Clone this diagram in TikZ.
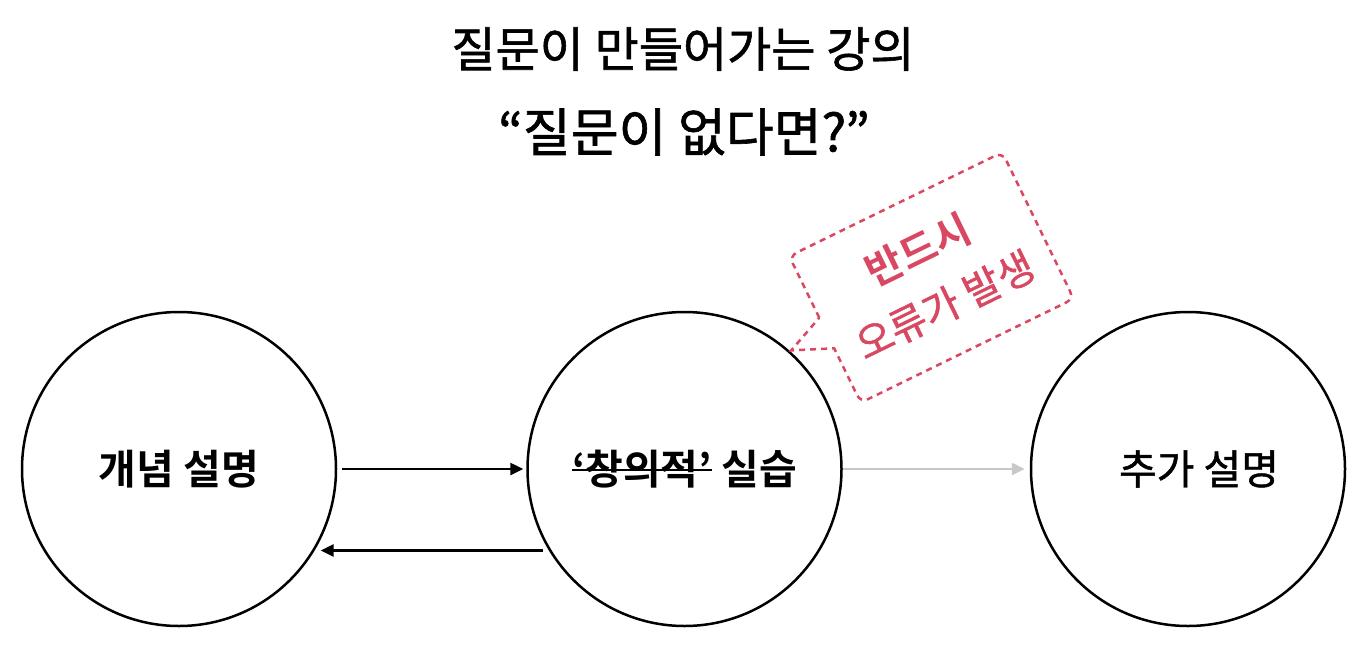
\documentclass[tikz,border=0pt]{standalone}
\usepackage{fontspec}
\setmainfont{Noto Sans CJK KR}[BoldFont={Noto Sans CJK KR Bold}]
\newfontfamily\plainfont{Noto Sans CJK KR}[FakeBold=1.2]
\usetikzlibrary{arrows.meta,positioning,calc}
\definecolor{alert}{RGB}{217,72,98}
\definecolor{faint}{RGB}{200,200,200}
\newcommand{\lowline}[1]{\setbox0\hbox{#1}\rlap{\rule[0.33em]{\wd0}{2pt}}\box0\relax}
\tikzset{
    stage/.style =  {circle,
                    fill=white,
                    draw=black,
                    text=black,
                    line width=2.5pt,
                    inner sep=0pt,
                    minimum size=314pt,
                    font=\fontsize{41}{46}\selectfont},
    heading/.style = {text=black,
                    inner sep=0pt,
                    font=\plainfont\fontsize{48}{54}\selectfont},
    note/.style =   {text=alert,
                    rotate=26,
                    inner sep=0pt,
                    font=\plainfont\fontsize{40}{46}\selectfont},
    balloon/.style = {draw=alert,
                    line width=2.5pt,
                    dash pattern=on 6pt off 5pt},
    flow/.style =   {draw=black,
                    line width=2.5pt,
                    ->},
    >={Triangle[length=13pt,width=12pt]}}
\begin{document}
\begin{tikzpicture}[x=1pt,y=-1pt]
                \useasboundingbox (0,0) rectangle (1366,654);
                \node[heading]  (title)    at (683,49)              {질문이 만들어가는 강의};
                \node[heading]  (question) at (684,132) [font=\plainfont\fontsize{52}{58}\selectfont] {“질문이 없다면?”};
                \node[stage]    (explain)  at (179,469)             {\textbf{개념 설명}};
                \node[stage]    (practice) [right=189pt of explain]  {\textbf{\lowline{‘창의적’} 실습}};
                \node[stage]    (extra)    [right=187pt of practice] {\plainfont\hspace*{22pt}추가 설명};
                \node[note]     (warnhead) at (918,250) [font=\bfseries\fontsize{40}{46}\selectfont] {반드시};
                \node[note]     (warnbody) at (945,305)             {오류가 발생};
                \begin{scope}[shift={($(warnhead)!0.5!(warnbody)$)}, rotate=26]
                \draw[balloon] (-118.5,-13) [rounded corners=8pt] -- (-118.5,-81.5) -- (118.5,-81.5)
                        -- (118.5,81.5) -- (-118.5,81.5) [sharp corners] -- (-118.5,21) -- (-158,4) -- cycle;
                \end{scope}
                \path   (explain.east)  edge [flow, shorten <=5pt, shorten >=3pt]  (practice.west)
                        (practice.211)  edge [flow, shorten <=6pt, shorten >=6pt]  (explain.-31)
                        (practice.east) edge [flow, draw=faint, shorten >=5pt]     (extra.west);
        \end{tikzpicture}
\end{document}
